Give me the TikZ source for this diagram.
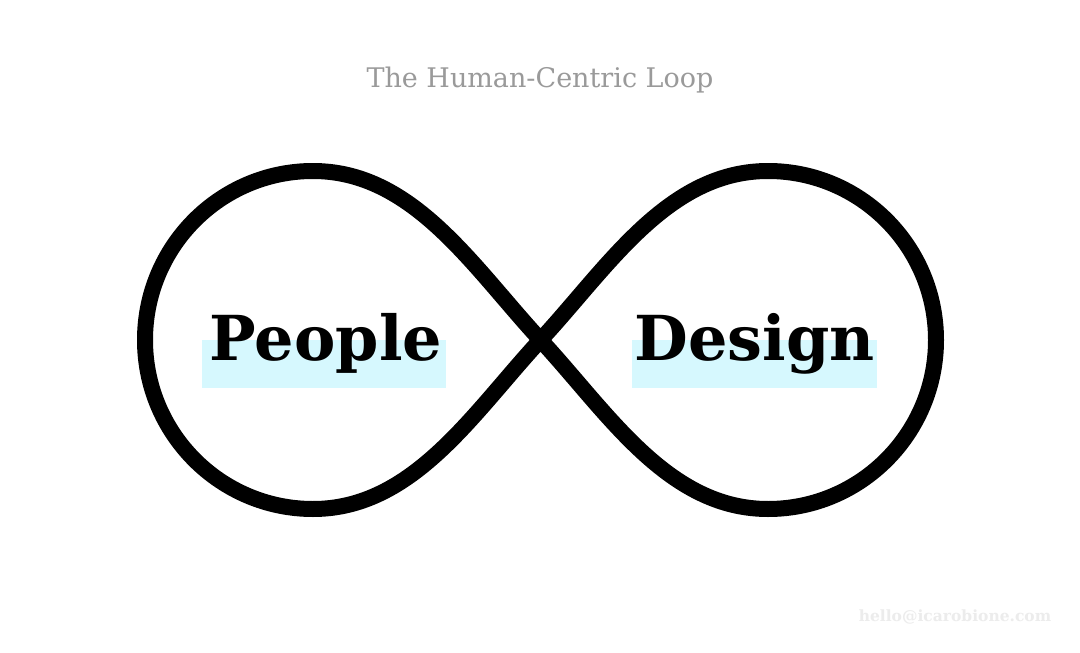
\documentclass[tikz,border=0pt]{standalone}
\usepackage{fontspec}
\setmainfont{DejaVu Serif}
\definecolor{titlegrey}{HTML}{9A9A9A}
\definecolor{hilite}{HTML}{D6F8FE}
\definecolor{mailgrey}{HTML}{ECECEC}
\begin{document}
\begin{tikzpicture}[x=1pt,y=-1pt,
  loopline/.style={line width=16pt,black,line join=round},
  hibox/.style={fill=hilite,draw=none,inner sep=0pt,minimum height=48pt},
  word/.style={inner sep=0pt,anchor=base,font=\fontsize{62}{62}\selectfont\bfseries},
  titletext/.style={inner sep=0pt,anchor=base,text=titlegrey,font=\fontsize{27}{27}\selectfont},
  mailtext/.style={inner sep=0pt,anchor=base,text=mailgrey,font=\fontsize{15.5}{15.5}\selectfont\bfseries}]
\fill[white] (0,0) rectangle (1080,653);
\useasboundingbox (0,0) rectangle (1080,653);
% highlights
\node[hibox,minimum width=244pt] (hp) at (324,364) {};
\node[hibox,minimum width=245pt] (hd) at (754.5,364) {};
% infinity loop
\coordinate (X) at (540.5,340);
\coordinate (LT) at (313,171);
\coordinate (LL) at (145,340);
\coordinate (LB) at (313,509);
\coordinate (RT) at (768,171);
\coordinate (RR) at (936,340);
\coordinate (RB) at (768,509);
\draw[loopline] (X)
  .. controls (472.8,266.9) and (413,171) .. (LT)
  .. controls (220.3,171) and (145,246.7) .. (LL)
  .. controls (145,433.3) and (220.3,509) .. (LB)
  .. controls (413,509) and (472.8,413.1) .. (X)
  .. controls (608.2,266.9) and (668,171) .. (RT)
  .. controls (860.7,171) and (936,246.7) .. (RR)
  .. controls (936,433.3) and (860.7,509) .. (RB)
  .. controls (668,509) and (608.2,413.1) .. (X) -- cycle;
% words
\node[word] (people) at (326,360) {People};
\node[word] (design) at (754.5,360) {Design};
\node[titletext] (title) at (540,87) {The Human-Centric Loop};
\node[mailtext] (mail) at (955,621) {hello@icarobione.com};
\end{tikzpicture}
\end{document}
